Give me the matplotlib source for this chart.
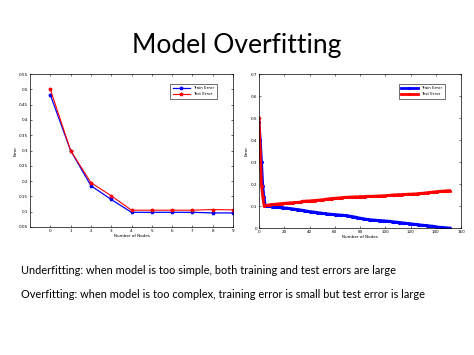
import numpy as np
import matplotlib.pyplot as plt

# left panel: nodes 0..9
nodes_small = [0, 1, 2, 3, 4, 5, 6, 7, 8, 9]
train_small = [0.482, 0.300, 0.185, 0.140, 0.098, 0.098, 0.098, 0.098, 0.096, 0.096]
test_small = [0.500, 0.300, 0.195, 0.152, 0.105, 0.105, 0.105, 0.105, 0.107, 0.106]

# right panel: nodes 0..151
train_big = [
    0.48, 0.40, 0.30, 0.19, 0.14, 0.100, 0.099, 0.099, 0.098, 0.098,
    0.097, 0.097, 0.096, 0.096, 0.095, 0.095, 0.094, 0.094, 0.093, 0.093,
    0.092, 0.091, 0.091, 0.090, 0.089, 0.088, 0.088, 0.087, 0.086, 0.085,
    0.084, 0.084, 0.083, 0.082, 0.081, 0.080, 0.079, 0.078, 0.077, 0.076,
    0.075, 0.074, 0.074, 0.073, 0.072, 0.071, 0.070, 0.069, 0.069, 0.068,
    0.067, 0.066, 0.066, 0.065, 0.064, 0.064, 0.063, 0.063, 0.062, 0.062,
    0.061, 0.061, 0.060, 0.060, 0.059, 0.059, 0.058, 0.058, 0.057, 0.057,
    0.056, 0.055, 0.054, 0.053, 0.052, 0.051, 0.050, 0.049, 0.047, 0.046,
    0.045, 0.044, 0.043, 0.042, 0.041, 0.040, 0.039, 0.038, 0.038, 0.037,
    0.037, 0.036, 0.036, 0.035, 0.035, 0.034, 0.034, 0.034, 0.033, 0.033,
    0.032, 0.032, 0.031, 0.031, 0.030, 0.029, 0.029, 0.028, 0.027, 0.027,
    0.026, 0.025, 0.025, 0.024, 0.023, 0.023, 0.022, 0.021, 0.021, 0.020,
    0.019, 0.019, 0.018, 0.017, 0.017, 0.016, 0.015, 0.015, 0.014, 0.013,
    0.013, 0.012, 0.012, 0.011, 0.010, 0.010, 0.009, 0.009, 0.008, 0.007,
    0.006, 0.005, 0.004, 0.004, 0.003, 0.003, 0.002, 0.002, 0.001, 0.001,
    0.000, 0.000,
]
test_big = [
    0.50, 0.35, 0.19, 0.14, 0.100, 0.103, 0.104, 0.104, 0.105, 0.106,
    0.107, 0.107, 0.108, 0.108, 0.109, 0.110, 0.110, 0.111, 0.111, 0.112,
    0.112, 0.113, 0.113, 0.114, 0.114, 0.115, 0.115, 0.115, 0.116, 0.116,
    0.116, 0.117, 0.117, 0.118, 0.121, 0.122, 0.122, 0.122, 0.123, 0.123,
    0.123, 0.124, 0.124, 0.125, 0.125, 0.126, 0.126, 0.127, 0.127, 0.128,
    0.128, 0.129, 0.130, 0.131, 0.132, 0.132, 0.133, 0.134, 0.134, 0.135,
    0.135, 0.136, 0.136, 0.137, 0.137, 0.138, 0.138, 0.139, 0.139, 0.140,
    0.140, 0.140, 0.141, 0.141, 0.141, 0.141, 0.142, 0.142, 0.142, 0.142,
    0.143, 0.143, 0.143, 0.143, 0.143, 0.144, 0.144, 0.144, 0.144, 0.144,
    0.144, 0.145, 0.145, 0.145, 0.145, 0.146, 0.146, 0.146, 0.147, 0.147,
    0.147, 0.148, 0.148, 0.148, 0.149, 0.150, 0.150, 0.151, 0.151, 0.151,
    0.152, 0.152, 0.152, 0.152, 0.153, 0.153, 0.153, 0.153, 0.154, 0.154,
    0.154, 0.154, 0.155, 0.155, 0.155, 0.156, 0.156, 0.157, 0.157, 0.158,
    0.158, 0.159, 0.160, 0.160, 0.161, 0.162, 0.162, 0.163, 0.164, 0.164,
    0.165, 0.165, 0.166, 0.166, 0.167, 0.167, 0.168, 0.168, 0.169, 0.169,
    0.170, 0.170,
]
nodes_big = np.arange(len(train_big))

title = "Model Overfitting"
line1 = "Underfitting: when model is too simple, both training and test errors are large"
line2 = "Overfitting: when model is too complex, training error is small but test error is large"

W, H = 474, 355
fig = plt.figure(figsize=(W / 100, H / 100), dpi=100)
fig.patch.set_facecolor("white")

def box(l, t, r, b):
    return [l / W, 1 - b / H, (r - l) / W, (b - t) / H]

ax1 = fig.add_axes(box(30, 74, 233, 227))
ax2 = fig.add_axes(box(259, 74, 461, 228))

ax1.plot(nodes_small, train_small, color="#0000ff", marker="*", ms=2.5, lw=0.9, label="Train Error")
ax1.plot(nodes_small, test_small, color="#ff0000", marker="*", ms=2.5, lw=0.8, label="Test Error")
ax1.set_xlim(-1, 9)
ax1.set_ylim(0.05, 0.55)
ax1.set_xticks(nodes_small)
ax1.set_yticks(np.arange(0.05, 0.551, 0.05))
ax1.set_yticklabels(["0.05", "0.1", "0.15", "0.2", "0.25", "0.3", "0.35", "0.4", "0.45", "0.5", "0.55"])

ax2.plot(nodes_big, train_big, color="#0000ff", marker=".", ms=2.5, lw=2.0, label="Train Error")
ax2.plot(nodes_big, test_big, color="#ff0000", marker=".", ms=2.5, lw=2.0, label="Test Error")
ax2.set_xlim(0, 160)
ax2.set_ylim(0, 0.7)
ax2.set_xticks(np.arange(0, 161, 20))
ax2.set_yticks(np.arange(0, 0.71, 0.1))
ax2.set_yticklabels(["0", "0.1", "0.2", "0.3", "0.4", "0.5", "0.6", "0.7"])

for ax in (ax1, ax2):
    ax.tick_params(labelsize=3, length=1.5, width=0.4, direction="in", top=True, right=True, pad=1.5)
    for s in ax.spines.values():
        s.set_linewidth(0.5)
    ax.set_xlabel("Number of Nodes", fontsize=3, labelpad=1)
    ax.set_ylabel("Error", fontsize=3, labelpad=1)
    leg = ax.legend(loc="upper right", fontsize=3, frameon=True, fancybox=False,
                    edgecolor="black", handlelength=4, borderpad=0.6,
                    bbox_to_anchor=(0.93, 0.95))
    leg.get_frame().set_linewidth(0.5)

fig.text(237 / W, 1 - 46 / H, title, ha="center", va="center", fontsize=19, family="Lato")
fig.text(21 / W, 1 - 270 / H, line1, ha="left", va="center", fontsize=7.9, family="Lato")
fig.text(21 / W, 1 - 294 / H, line2, ha="left", va="center", fontsize=7.9, family="Lato")

fig.savefig("out.png", dpi=100)
